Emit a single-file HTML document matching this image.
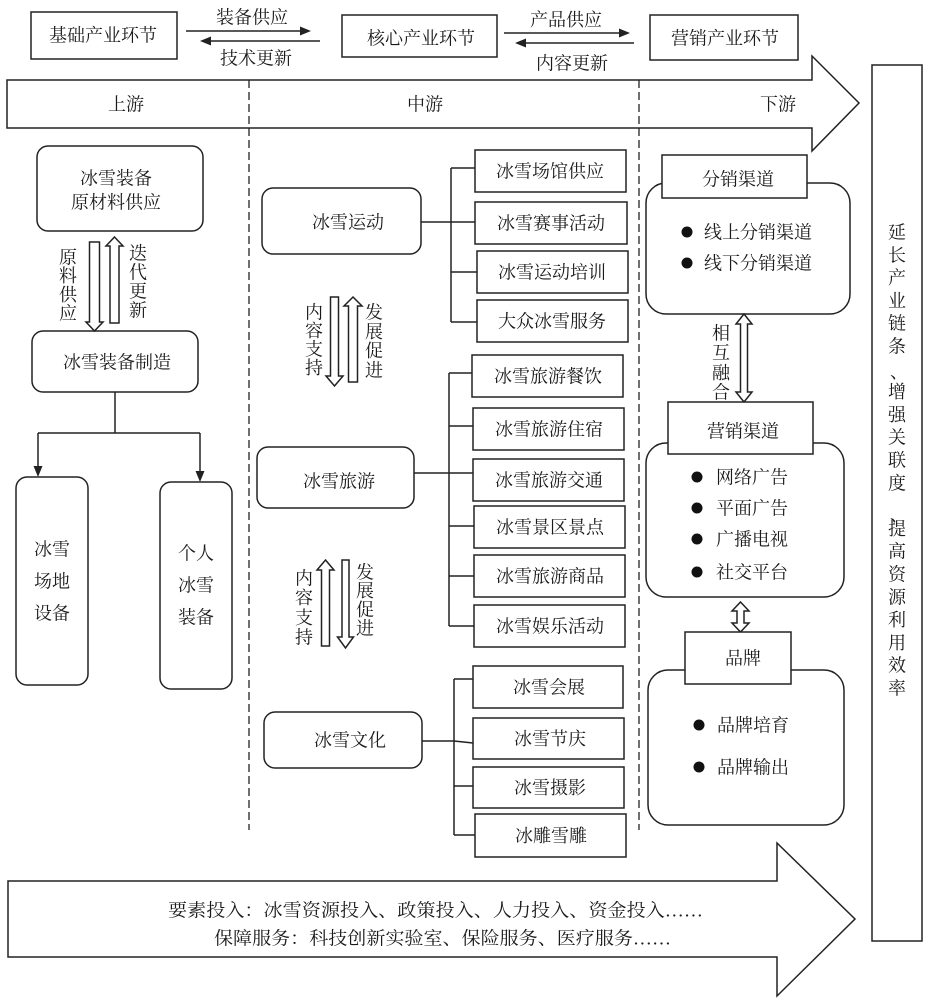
<!DOCTYPE html>
<html><head><meta charset="utf-8"><style>
html,body{margin:0;padding:0;background:#fff;}
svg{display:block;}
text{font-family:"Liberation Serif","Noto Serif CJK SC",serif;font-size:18px;fill:#1a1a1a;}
.c{text-anchor:middle;}
</style></head><body>
<svg width="935" height="1000" viewBox="0 0 935 1000" xmlns="http://www.w3.org/2000/svg">
<g fill="none" stroke="#222" stroke-width="1.5">
<rect x="31" y="12" width="146" height="47"/>
<rect x="342" y="15" width="155" height="42"/>
<rect x="650" y="15" width="148" height="45"/>
<line x1="186" y1="31" x2="302" y2="31"/>
<line x1="320" y1="41" x2="209" y2="41"/>
<line x1="504" y1="33" x2="621" y2="33"/>
<line x1="634" y1="43" x2="524" y2="43"/>
<polygon points="7,80 812,80 812,56 859,103 812,151 812,128 7,128"/>
<rect x="872" y="65" width="50" height="876"/>
<polygon points="8,881 777,881 777,843 855,919 777,996 777,957 8,957"/>
</g>
<g fill="#222" stroke="none">
<polygon points="311,31 300,26.5 300,35.5"/>
<polygon points="200,41 211,36.5 211,45.5"/>
<polygon points="630,33 619,28.5 619,37.5"/>
<polygon points="515,43 526,38.5 526,47.5"/>
<polygon points="38,477 33.5,466 42.5,466"/>
<polygon points="200,482 195.5,471 204.5,471"/>
</g>
<g stroke="#222" stroke-width="1.3" stroke-dasharray="8 4" fill="none">
<line x1="249" y1="80" x2="249" y2="830"/>
<line x1="639" y1="80" x2="639" y2="830"/>
</g>

<g fill="none" stroke="#222" stroke-width="1.5">
<rect x="37" y="146" width="166" height="85" rx="11"/>
<rect x="32" y="331" width="166" height="61" rx="11"/>
<line x1="115" y1="392" x2="115" y2="433"/>
<line x1="38" y1="433" x2="200" y2="433"/>
<line x1="38" y1="433" x2="38" y2="468"/>
<line x1="200" y1="433" x2="200" y2="473"/>
<rect x="16" y="477" width="72" height="208" rx="11"/>
<rect x="160" y="482" width="72" height="207" rx="11"/>
<polygon points="89.5,242 99.5,242 99.5,322 103,322 94.5,331 86,322 89.5,322"/>
<polygon points="114.5,237 123,246 119,246 119,323 110,323 110,246 106,246"/>

<rect x="262" y="188" width="159" height="66" rx="11"/>
<line x1="421" y1="222" x2="451" y2="222"/>
<line x1="451" y1="168" x2="451" y2="322"/>
<line x1="451" y1="168" x2="475" y2="168"/>
<line x1="451" y1="222" x2="475" y2="222"/>
<line x1="451" y1="272" x2="477" y2="272"/>
<line x1="451" y1="322" x2="477" y2="322"/>
<rect x="475" y="150" width="151" height="42"/>
<rect x="475" y="202" width="152" height="42"/>
<rect x="477" y="251" width="151" height="42"/>
<rect x="477" y="300" width="151" height="42"/>
<polygon points="330.5,297 338.5,297 338.5,376 343,376 334.5,386 326,376 330.5,376"/>
<polygon points="353,297 362,306 357.5,306 357.5,382 348.5,382 348.5,306 344,306"/>

<rect x="257" y="447" width="157" height="61" rx="11"/>
<line x1="414" y1="473" x2="449" y2="473"/>
<line x1="449" y1="373" x2="449" y2="626"/>
<line x1="449" y1="373" x2="472" y2="373"/>
<line x1="449" y1="426" x2="473" y2="426"/>
<line x1="449" y1="473" x2="473" y2="473"/>
<line x1="449" y1="526" x2="474" y2="526"/>
<line x1="449" y1="576" x2="474" y2="576"/>
<line x1="449" y1="626" x2="474" y2="626"/>
<rect x="472" y="355" width="151" height="42"/>
<rect x="473" y="408" width="151" height="42"/>
<rect x="473" y="459" width="151" height="42"/>
<rect x="474" y="506" width="151" height="42"/>
<rect x="474" y="555" width="151" height="42"/>
<rect x="474" y="605" width="151" height="42"/>
<polygon points="325.5,560 334,570 329.5,570 329.5,646 321.5,646 321.5,570 317,570"/>
<polygon points="342,560 349,560 349,637 353.5,637 345.5,648 337.5,637 342,637"/>

<rect x="264" y="712" width="158" height="56" rx="11"/>
<line x1="422" y1="741" x2="454" y2="741"/>
<line x1="454" y1="679" x2="454" y2="835"/>
<line x1="454" y1="679" x2="473" y2="679"/>
<line x1="454" y1="741" x2="473" y2="743"/>
<line x1="454" y1="786" x2="473" y2="786"/>
<line x1="454" y1="835" x2="475" y2="835"/>
<rect x="473" y="666" width="150" height="42"/>
<rect x="473" y="718" width="151" height="41"/>
<rect x="473" y="767" width="151" height="41"/>
<rect x="475" y="814" width="151" height="43"/>

<rect x="646" y="183" width="204" height="131" rx="20"/>
<rect x="662" y="155" width="145" height="43" fill="#fff"/>
<polygon points="744,314 752,324 747.5,324 747.5,392 752,392 744,402 736,392 740.5,392 740.5,324 736,324"/>
<rect x="646" y="443" width="198" height="154" rx="20"/>
<rect x="668" y="402" width="145" height="52" fill="#fff"/>
<polygon points="740.5,602 749,611 744,611 744,623 749,623 740.5,632 732,623 737,623 737,611 732,611"/>
<rect x="648" y="670" width="196" height="155" rx="20"/>
<rect x="685" y="632" width="106" height="52" fill="#fff"/>
</g>

<g fill="#111">
<circle cx="687" cy="232" r="5.5"/>
<circle cx="687" cy="263" r="5.5"/>
<circle cx="697" cy="477" r="5.5"/>
<circle cx="697" cy="508" r="5.5"/>
<circle cx="697" cy="539" r="5.5"/>
<circle cx="697" cy="572" r="5.5"/>
<circle cx="699" cy="725" r="5.5"/>
<circle cx="699" cy="767" r="5.5"/>
</g>

<text class="c" x="103" y="41.5">基础产业环节</text>
<text class="c" x="252" y="23.5">装备供应</text>
<text class="c" x="256" y="64.5">技术更新</text>
<text class="c" x="421" y="44.5">核心产业环节</text>
<text class="c" x="566" y="26">产品供应</text>
<text class="c" x="572" y="69.5">内容更新</text>
<text class="c" x="725" y="44.5">营销产业环节</text>
<text class="c" x="126" y="110.5">上游</text>
<text class="c" x="425" y="110.5">中游</text>
<text class="c" x="778" y="110.5">下游</text>

<text class="c" x="116" y="184.5">冰雪装备</text>
<text class="c" x="116" y="208.5">原材料供应</text>
<text class="c" x="68"><tspan x="68" y="263.5">原</tspan><tspan x="68" y="282.2">料</tspan><tspan x="68" y="300.9">供</tspan><tspan x="68" y="319.5">应</tspan></text>
<text class="c" x="138"><tspan x="138" y="259.5">迭</tspan><tspan x="138" y="278.5">代</tspan><tspan x="138" y="297.5">更</tspan><tspan x="138" y="316.5">新</tspan></text>
<text class="c" x="117" y="368.5">冰雪装备制造</text>
<text class="c" x="52" y="555.5">冰雪</text>
<text class="c" x="52" y="587.5">场地</text>
<text class="c" x="52" y="619.5">设备</text>
<text class="c" x="196" y="559.5">个人</text>
<text class="c" x="196" y="591.5">冰雪</text>
<text class="c" x="196" y="623.5">装备</text>

<text class="c" x="348" y="228.5">冰雪运动</text>
<text class="c" x="550" y="177.5">冰雪场馆供应</text>
<text class="c" x="551" y="229.5">冰雪赛事活动</text>
<text class="c" x="552" y="278.5">冰雪运动培训</text>
<text class="c" x="552" y="327.5">大众冰雪服务</text>

<text class="c"><tspan x="314" y="318.5">内</tspan><tspan x="314" y="337">容</tspan><tspan x="314" y="355.5">支</tspan><tspan x="314" y="374">持</tspan></text>
<text class="c"><tspan x="374" y="318.5">发</tspan><tspan x="374" y="337.8">展</tspan><tspan x="374" y="357.1">促</tspan><tspan x="374" y="376.5">进</tspan></text>

<text class="c" x="339" y="487.5">冰雪旅游</text>
<text class="c" x="548" y="382.5">冰雪旅游餐饮</text>
<text class="c" x="549" y="435.5">冰雪旅游住宿</text>
<text class="c" x="549" y="486.5">冰雪旅游交通</text>
<text class="c" x="550" y="533.5">冰雪景区景点</text>
<text class="c" x="550" y="582.5">冰雪旅游商品</text>
<text class="c" x="550" y="632.5">冰雪娱乐活动</text>

<text class="c"><tspan x="304" y="584.5">内</tspan><tspan x="304" y="604.2">容</tspan><tspan x="304" y="623.8">支</tspan><tspan x="304" y="643.5">持</tspan></text>
<text class="c"><tspan x="365" y="578.5">发</tspan><tspan x="365" y="597.2">展</tspan><tspan x="365" y="615.8">促</tspan><tspan x="365" y="634.5">进</tspan></text>

<text class="c" x="350" y="746.5">冰雪文化</text>
<text class="c" x="549" y="693.5">冰雪会展</text>
<text class="c" x="550" y="745">冰雪节庆</text>
<text class="c" x="550" y="794">冰雪摄影</text>
<text class="c" x="551" y="842">冰雕雪雕</text>

<text class="c" x="738" y="185.5">分销渠道</text>
<text x="704" y="238.5">线上分销渠道</text>
<text x="704" y="269.5">线下分销渠道</text>
<text class="c"><tspan x="721" y="339.5">相</tspan><tspan x="721" y="359.2">互</tspan><tspan x="721" y="378.8">融</tspan><tspan x="721" y="398.5">合</tspan></text>
<text class="c" x="743" y="437.5">营销渠道</text>
<text x="716" y="483.5">网络广告</text>
<text x="716" y="514.5">平面广告</text>
<text x="716" y="545.5">广播电视</text>
<text x="716" y="578.5">社交平台</text>
<text class="c" x="743" y="664.5">品牌</text>
<text x="717" y="731.5">品牌培育</text>
<text x="717" y="773.5">品牌输出</text>

<text class="c"><tspan x="897" y="238.5">延</tspan><tspan x="897" y="261.3">长</tspan><tspan x="897" y="284.1">产</tspan><tspan x="897" y="306.9">业</tspan><tspan x="897" y="329.7">链</tspan><tspan x="897" y="352.5">条</tspan><tspan x="897" y="398.1">增</tspan><tspan x="897" y="420.9">强</tspan><tspan x="897" y="443.7">关</tspan><tspan x="897" y="466.5">联</tspan><tspan x="897" y="489.3">度</tspan><tspan x="897" y="534.9">提</tspan><tspan x="897" y="557.7">高</tspan><tspan x="897" y="580.5">资</tspan><tspan x="897" y="603.3">源</tspan><tspan x="897" y="626.1">利</tspan><tspan x="897" y="648.9">用</tspan><tspan x="897" y="671.7">效</tspan><tspan x="897" y="694.5">率</tspan></text>
<text x="890" y="378">、</text>
<text x="890" y="521">、</text>

<text x="168" y="916.5" textLength="535" lengthAdjust="spacingAndGlyphs">要素投入：冰雪资源投入、政策投入、人力投入、资金投入……</text>
<text x="214" y="944.5" textLength="457" lengthAdjust="spacingAndGlyphs">保障服务：科技创新实验室、保险服务、医疗服务……</text>
</svg>
</body></html>
